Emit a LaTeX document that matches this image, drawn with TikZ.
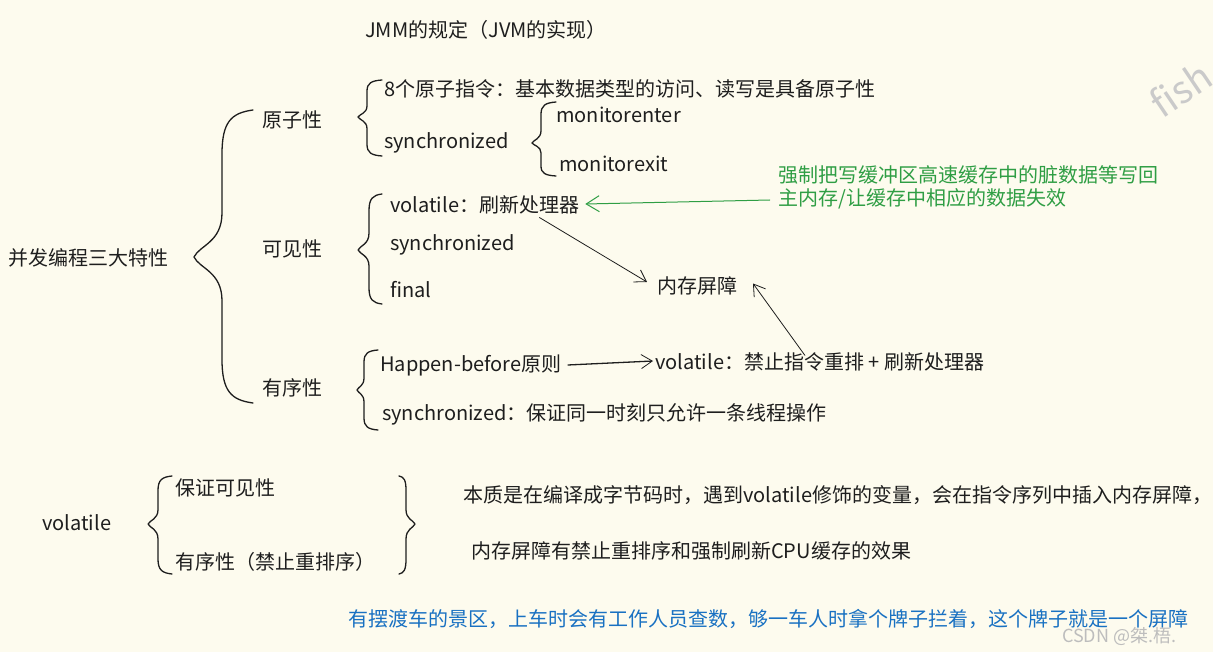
\documentclass[tikz,border=0pt]{standalone}
\usepackage{fontspec}
\setmainfont{Noto Sans CJK SC}
\usetikzlibrary{arrows.meta}
\definecolor{bg}{HTML}{FDFBEE}
\definecolor{ink}{HTML}{1E1E1E}
\definecolor{grn}{HTML}{2F9E44}
\definecolor{blu}{HTML}{1971C2}
\definecolor{wm}{HTML}{BDBDBD}
% curly brace: tip x, stem x, end x, top y, mid y, bottom y (works both ways)
\newcommand{\cbrace}[6]{%
  \draw[brc] (#3,#4)
    .. controls ({#3-0.7*(#3-#2)},{#4+0.02*(#5-#4)}) and ({#2},{#4+0.08*(#5-#4)}) .. ({#2},{#4+0.3*(#5-#4)})
    -- ({#2},{#5-0.3*(#5-#4)})
    .. controls ({#2},{#5-0.1*(#5-#4)}) and ({#1+0.2*(#2-#1)},{#5-0.08*(#5-#4)}) .. (#1,#5)
    .. controls ({#1+0.2*(#2-#1)},{#5+0.08*(#6-#5)}) and ({#2},{#5+0.1*(#6-#5)}) .. ({#2},{#5+0.3*(#6-#5)})
    -- ({#2},{#6-0.3*(#6-#5)})
    .. controls ({#2},{#6-0.08*(#6-#5)}) and ({#3-0.7*(#3-#2)},{#6-0.02*(#6-#5)}) .. (#3,#6);}
\tikzset{
  txt/.style={anchor=west, inner sep=0pt, font=\fontsize{20}{23}\selectfont, text=ink},
  brc/.style={draw=ink, line width=1.3pt, line cap=round, line join=round},
  arr/.style={draw=ink, line width=0.8pt, -{Straight Barb[length=11pt,width=14pt,line width=0.8pt]}},
  garr/.style={draw=grn, line width=1pt, -{Straight Barb[length=13pt,width=16pt,line width=1pt]}},
}
\begin{document}
\begin{tikzpicture}[x=1pt,y=-1pt]
\fill[bg] (0,0) rectangle (1213,652);
\useasboundingbox (0,0) rectangle (1213,652);

% watermark top-right
\begin{scope}
\clip (1100,40) rectangle (1213,160);
\node[rotate=34, anchor=south west, inner sep=0pt, text=wm!80, font=\fontsize{38}{38}\selectfont] (fish) at (1163,120) {fish};
\end{scope}

\node[txt] (title) at (365,30) {JMM的规定（JVM的实现）};

\node[txt] (root) at (8,258) {并发编程三大特性};
\cbrace{194}{222}{253}{110}{257}{403}

\node[txt] (atom) at (262,120) {原子性};
\node[txt] (vis) at (262,249) {可见性};
\node[txt] (ord) at (262,388) {有序性};

% atomicity
\cbrace{358}{367}{382}{80}{117}{156}
\node[txt] (a1) at (384,89) {8个原子指令：基本数据类型的访问、读写是具备原子性};
\node[txt] (a2) at (384,143) {synchronized};
\cbrace{532}{541}{556}{102}{143}{176}
\node[txt] (m1) at (556,115) {monitorenter};
\node[txt] (m2) at (559,164) {monitorexit};

% visibility
\cbrace{358}{369}{382}{194}{250}{304}
\node[txt] (v1) at (390,205) {volatile：刷新处理器};
\node[txt] (v2) at (390,245) {synchronized};
\node[txt] (v3) at (390,290) {final};
\node[txt] (mb) at (657,286) {内存屏障};

\node[txt, text=grn, align=left] (gnote) at (778,187) {强制把写缓冲区高速缓存中的脏数据等写回\\主内存/让缓存中相应的数据失效};

% ordering
\cbrace{357}{364}{378}{350}{390}{430}
\node[txt] (o1) at (380,365) {Happen-before原则};
\node[txt] (o1b) at (655,362) {volatile：禁止指令重排 + 刷新处理器};
\node[txt] (o2) at (382,414) {synchronized：保证同一时刻只允许一条线程操作};

% arrows
\draw[arr] (v1.south east) ++(-40,3) coordinate (s1) (s1) -- ([xshift=-10pt,yshift=4pt]mb.west);
\draw[garr] (gnote.west) ++(-8,13) coordinate (g1) (g1) -- ([xshift=6pt,yshift=1pt]v1.east);
\draw[arr] ([xshift=150pt,yshift=-3pt]o1b.north west) -- ([xshift=96pt,yshift=12pt]mb.south west);
\draw[arr, line width=1.3pt] ([xshift=6pt]o1.east) -- ([xshift=-2pt,yshift=1pt]o1b.west);

% volatile summary
\node[txt] (vol) at (42,523) {volatile};
\cbrace{148}{158}{172}{476}{524}{574}
\node[txt] (p1) at (175,488) {保证可见性};
\node[txt] (p2) at (175,562) {有序性（禁止重排序）};
\cbrace{415}{406}{399}{476}{524}{574}
\node[txt] (e1) at (463,495) {本质是在编译成字节码时，遇到volatile修饰的变量，会在指令序列中插入内存屏障，};
\node[txt] (e2) at (471,551) {内存屏障有禁止重排序和强制刷新CPU缓存的效果};

\node[txt, text=blu] (ex) at (348,619) {有摆渡车的景区，上车时会有工作人员查数，够一车人时拿个牌子拦着，这个牌子就是一个屏障};
\node[anchor=west, inner sep=0pt, text=wm, font=\fontsize{18}{18}\selectfont] (csdn) at (1062,636) {CSDN @桀.梧.};
\end{tikzpicture}
\end{document}
